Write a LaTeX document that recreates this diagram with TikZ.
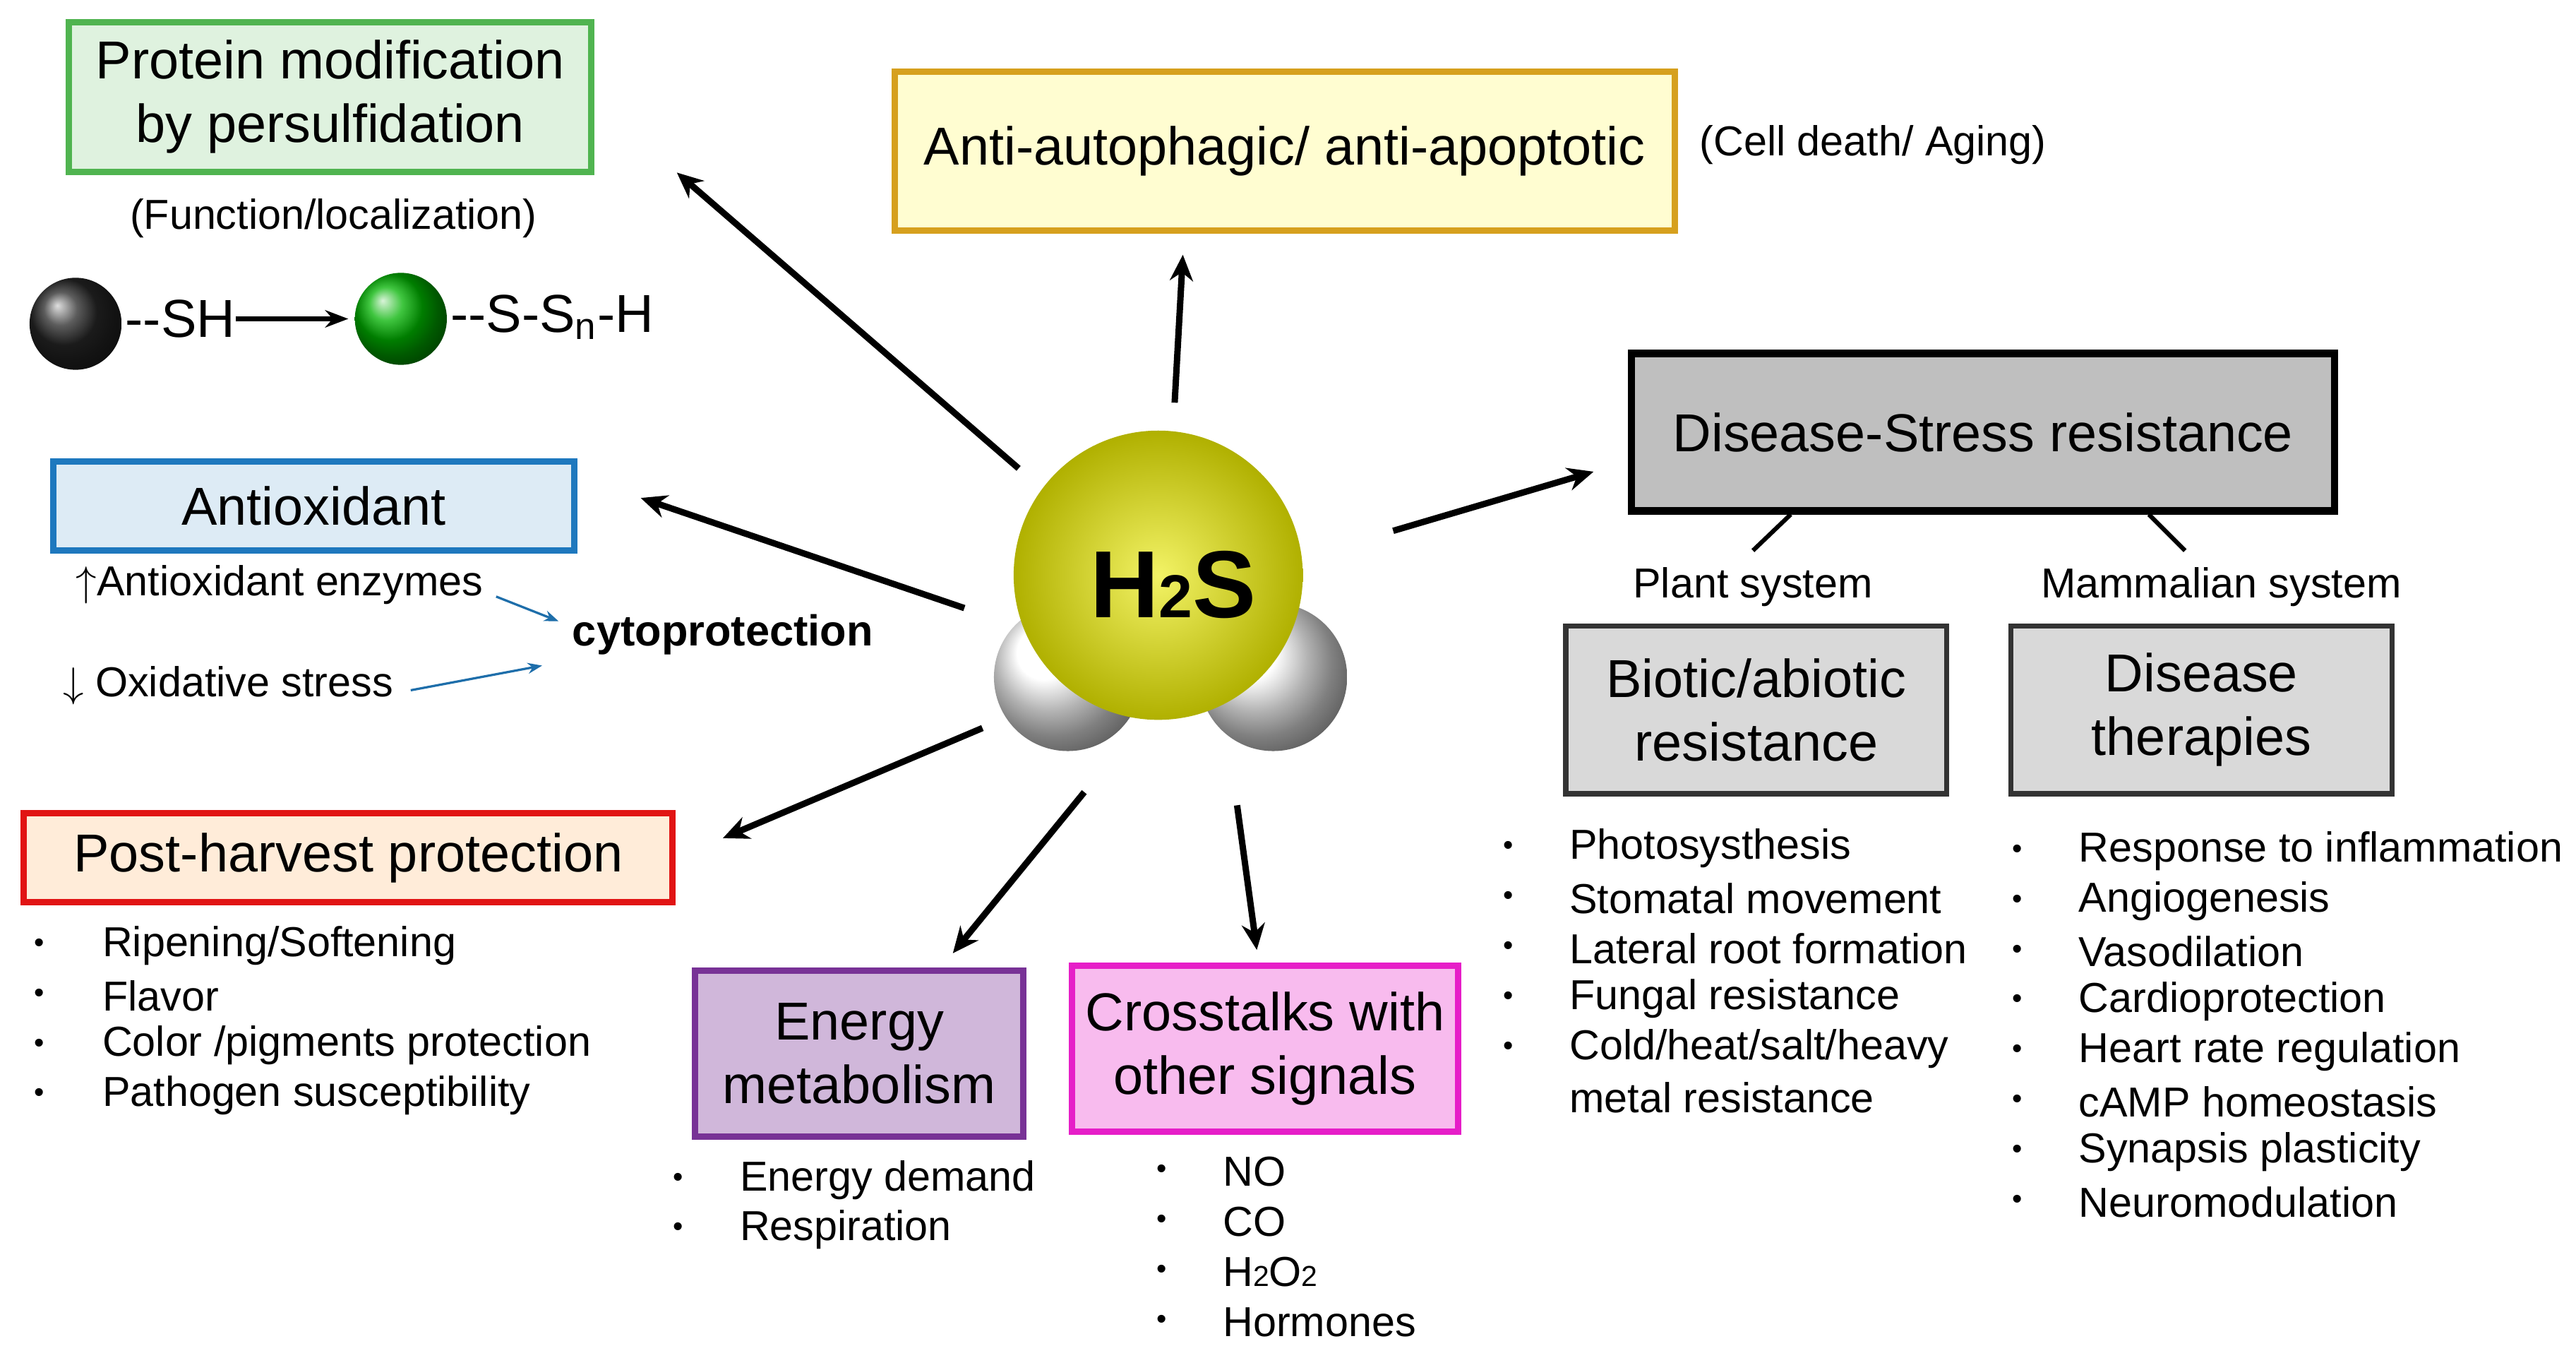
\documentclass[tikz,border=0pt]{standalone}
\usepackage{fontspec}
\setmainfont{Liberation Sans}
\usetikzlibrary{positioning,arrows.meta,shadings}
\definecolor{boxgreen}{RGB}{80,180,80}
\definecolor{boxorange}{RGB}{214,160,30}
\definecolor{boxblue}{RGB}{30,120,190}
\definecolor{boxred}{RGB}{225,20,20}
\definecolor{boxpurple}{RGB}{120,50,150}
\definecolor{boxpink}{RGB}{230,30,200}
\definecolor{arrblue}{RGB}{30,110,170}
\definecolor{sulfur}{RGB}{235,235,0}
\tikzset{
  box/.style={draw,line width=2.2pt,align=center,font=\fontsize{18.5}{22}\selectfont,inner sep=0pt},
  big/.style={-{Stealth[length=9pt,width=8pt]},line width=2.2pt},
  item/.style={anchor=west,font=\fontsize{14.5}{17}\selectfont,inner sep=0pt},
  bul/.style={font=\fontsize{10}{12}\selectfont,inner sep=0pt},
  lab/.style={font=\fontsize{14.5}{17}\selectfont,inner sep=0pt}
}
\begin{document}
\begin{tikzpicture}[x=0.02cm,y=-0.02cm]
    \useasboundingbox (0,0) rectangle (1568,826);
    % Boxes
    \node[box,draw=boxgreen,fill=boxgreen!18,minimum width=318*0.02cm,minimum height=91*0.02cm] (protein) at (201,59) {Protein modification\\by persulfidation};
    \node[lab] (function) at (203,133) {(Function/localization)};
    \node[box,draw=boxorange,fill=yellow!18,minimum width=475*0.02cm,minimum height=97*0.02cm] (autophagy) at (782,92) {Anti-autophagic/ anti-apoptotic};
    \node[lab] (celldeath) at (1140,88) {(Cell death/ Aging)};
    \node[box,draw=boxblue,fill=boxblue!15,minimum width=317*0.02cm,minimum height=54*0.02cm] (antiox) at (191,308) {Antioxidant};
    \node[box,draw=black,fill=gray!50,minimum width=428*0.02cm,minimum height=96*0.02cm,line width=2.6pt] (disease) at (1207,263) {Disease-Stress resistance};
    \node[box,draw=black!80,fill=gray!30,minimum width=232*0.02cm,minimum height=102*0.02cm,line width=1.8pt] (biotic) at (1069,432) {Biotic/abiotic\\resistance};
    \node[box,draw=black!80,fill=gray!30,minimum width=232*0.02cm,minimum height=102*0.02cm,line width=1.8pt] (therapy) at (1340,432) {Disease\\therapies};
    \node[box,draw=boxred,fill=orange!15,minimum width=395*0.02cm,minimum height=54*0.02cm] (harvest) at (212,522) {Post-harvest protection};
    \node[box,draw=boxpurple,fill=boxpurple!35,minimum width=200*0.02cm,minimum height=101*0.02cm] (energy) at (523,641) {Energy\\metabolism};
    \node[box,draw=boxpink,fill=boxpink!30,minimum width=235*0.02cm,minimum height=101*0.02cm] (cross) at (770,638) {Crosstalks with\\other signals};

    % Persulfidation
    \shade[ball color=black!85] (46,197) circle (28);
    \node[font=\fontsize{18.5}{22}\selectfont,anchor=west,inner sep=0pt] (sh) at (76,194) {{-}{-}SH};
    \shade[ball color=green!70!black] (244,194) circle (28);
    \node[font=\fontsize{18.5}{22}\selectfont,anchor=west,inner sep=0pt] (ssh) at (274,193) {{-}{-}S-S\textsubscript{n}-H};
    \draw[-{Stealth[length=8pt]},line width=1.8pt] (sh.east) -- (212,194);

    % H2S molecule
    \shade[ball color=white] (650,412) circle (45);
    \shade[ball color=white] (775,412) circle (45);
    \shade[inner color=sulfur!60!white,outer color=sulfur!75!black] (705,350) circle (88);
    \node[font=\fontsize{33}{36}\selectfont\bfseries] (h2s) at (714,356) {H{\fontsize{21}{24}\selectfont 2}S};

    % Arrows from H2S
    \draw[big] (620,285) -- (412,105);
    \draw[big] (715,245) -- (720,155);
    \draw[big] (587,370) -- (390,303);
    \draw[big] (848,323) -- (970,287);
    \draw[big] (598,443) -- (440,510);
    \draw[big] (660,482) -- (580,580);
    \draw[big] (753,490) -- (765,578);

    % Antioxidant details
    \node[lab,anchor=west] (enz) at (46,356) {$\uparrow$Antioxidant enzymes};
    \node[lab,anchor=west] (oxs) at (38,417) {$\downarrow$ Oxidative stress};
    \node[lab,font=\fontsize{15}{17}\selectfont\bfseries] (cyto) at (440,386) {cytoprotection};
    \draw[-{Stealth[length=5pt]},arrblue,line width=0.8pt] (302,363) -- (340,378);
    \draw[-{Stealth[length=5pt]},arrblue,line width=0.8pt] (250,420) -- (330,405);

    % Disease branches
    \draw[line width=1.5pt] (1090,313) -- (1067,335);
    \draw[line width=1.5pt] (1308,313) -- (1330,335);
    \node[lab] (plant) at (1067,357) {Plant system};
    \node[lab] (mammal) at (1352,357) {Mammalian system};

    % Lists
    \foreach \t [count=\i] in {Ripening/Softening,Flavor,Color /pigments protection,Pathogen susceptibility}
      {\node[bul] at (24,545+30.4*\i) {\textbullet}; \node[item] at (62,545+30.4*\i) {\t};}
    \foreach \t [count=\i] in {Energy demand,Respiration}
      {\node[bul] at (413,688+30*\i) {\textbullet}; \node[item] at (450,688+30*\i) {\t};}
    \foreach \t [count=\i] in {NO,CO,H{\fontsize{10}{12}\selectfont 2}O{\fontsize{10}{12}\selectfont 2},Hormones}
      {\node[bul] at (707,682.5+30.5*\i) {\textbullet}; \node[item] at (744,682.5+30.5*\i) {\t};}
    \foreach \t [count=\i] in {Photosysthesis,Stomatal movement,Lateral root formation,Fungal resistance,Cold/heat/salt/heavy}
      {\node[bul] at (918,485.5+30.5*\i) {\textbullet}; \node[item] at (955,485.5+30.5*\i) {\t};}
    \node[item] (metal) at (955,668) {metal resistance};
    \foreach \t [count=\i] in {Response to inflammation,Angiogenesis,Vasodilation,Cardioprotection,Heart rate regulation,cAMP homeostasis,Synapsis plasticity,Neuromodulation}
      {\node[bul] at (1228,487.5+30.5*\i) {\textbullet}; \node[item] at (1265,487.5+30.5*\i) {\t};}
\end{tikzpicture}
\end{document}
